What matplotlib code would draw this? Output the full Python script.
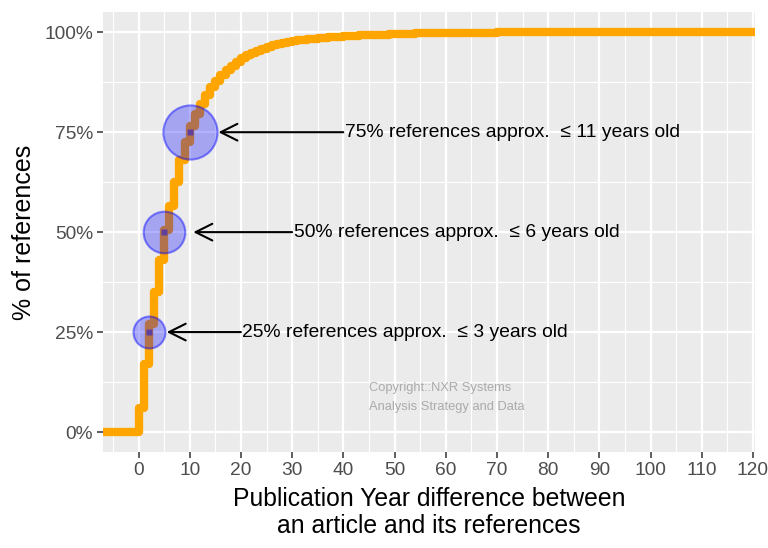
import numpy as np
import matplotlib
matplotlib.use("Agg")
import matplotlib.pyplot as plt
from matplotlib.ticker import MultipleLocator, FuncFormatter

plt.rcParams['font.family'] = ['Liberation Sans', 'DejaVu Sans']

# cumulative share of references by publication-year difference
years = list(range(0, 71))
cum_share = [
    0.060, 0.170, 0.270, 0.350, 0.430, 0.505, 0.565, 0.625, 0.680, 0.725,
    0.765, 0.795, 0.820, 0.842, 0.862, 0.878, 0.892, 0.905, 0.916, 0.926,
    0.935, 0.942, 0.949, 0.954, 0.959, 0.963, 0.967, 0.970, 0.973, 0.976,
    0.978, 0.980, 0.981, 0.983, 0.984, 0.985, 0.986, 0.987, 0.988, 0.989,
    0.990, 0.990, 0.991, 0.992, 0.992, 0.993, 0.993, 0.994, 0.994, 0.995,
    0.995, 0.996, 0.996, 0.996, 0.997, 0.997, 0.997, 0.998, 0.998, 0.998,
    0.998, 0.999, 0.999, 0.999, 0.999, 0.999, 0.999, 0.999, 0.999, 0.999,
    1.000,
]

# quantile markers
q_levels = [0.25, 0.50, 0.75]
q_years = [2, 5, 10]
q_sizes = [23, 30, 39]          # circle diameter, points
arrow_tip = [5.5, 10.7, 15.6]
label_x = [20, 30, 40]
labels = ["25% references approx.  \u2264 3 years old",
          "50% references approx.  \u2264 6 years old",
          "75% references approx.  \u2264 11 years old"]

xmin, xmax = -7, 120.4

fig = plt.figure(figsize=(7.68, 5.48), dpi=100)
ax = fig.add_axes([0.1337, 0.1752, 0.983 - 0.1337, 0.9776 - 0.1752])
ax.set_facecolor('#EBEBEB')
for s in ax.spines.values():
    s.set_visible(False)

ax.set_xlim(xmin, xmax)
ax.set_ylim(-0.05, 1.05)
ax.xaxis.set_major_locator(MultipleLocator(10))
ax.xaxis.set_minor_locator(MultipleLocator(5))
ax.yaxis.set_major_locator(MultipleLocator(0.25))
ax.yaxis.set_minor_locator(MultipleLocator(0.125))
ax.yaxis.set_major_formatter(FuncFormatter(lambda v, p: f"{v*100:.0f}%"))
ax.grid(which='major', color='white', lw=1.6)
ax.grid(which='minor', color='white', lw=0.8)
ax.set_axisbelow(True)
ax.tick_params(which='major', length=4, width=1.1, color='#333333',
               labelcolor='#4D4D4D', labelsize=13.8, pad=3)
ax.tick_params(which='minor', length=0)

# ecdf as a step line, padded to the panel edges
xs = [xmin] + years + [xmax]
ys = [0.0] + cum_share + [1.0]
ax.plot(xs, ys, drawstyle='steps-post', color='#FFA500', lw=6,
        solid_joinstyle='round', solid_capstyle='round', zorder=2)

for qy, ql, sz in zip(q_years, q_levels, q_sizes):
    ax.plot(qy, ql, 'o', ms=sz, mfc=(0, 0, 1, 0.3), mec=(0, 0, 1, 0.45),
            mew=1.5, zorder=3)
    ax.plot(qy, ql, 's', ms=5, mfc=(0, 0, 1, 0.45), mec='none', zorder=4)

for ql, tip, lx, txt in zip(q_levels, arrow_tip, label_x, labels):
    ax.annotate('', xy=(tip, ql), xytext=(lx, ql),
                arrowprops=dict(arrowstyle='->,head_length=0.6,head_width=0.3',
                                lw=1.5, color='black', mutation_scale=20,
                                shrinkA=0, shrinkB=0))
    ax.text(lx + 0.3, ql, txt, fontsize=13.9, va='center', ha='left',
            color='black')

ax.text(45, 0.109, "Copyright::NXR Systems", fontsize=9.3, color='#ABABAB',
        va='center', ha='left')
ax.text(45, 0.062, "Analysis Strategy and Data", fontsize=9.3, color='#ABABAB',
        va='center', ha='left')

ax.set_xlabel("Publication Year difference between\nan article and its references",
              fontsize=17.8, labelpad=6, linespacing=1.15)
ax.set_ylabel("% of references", fontsize=18, labelpad=6)

fig.savefig("out.png", dpi=100)
